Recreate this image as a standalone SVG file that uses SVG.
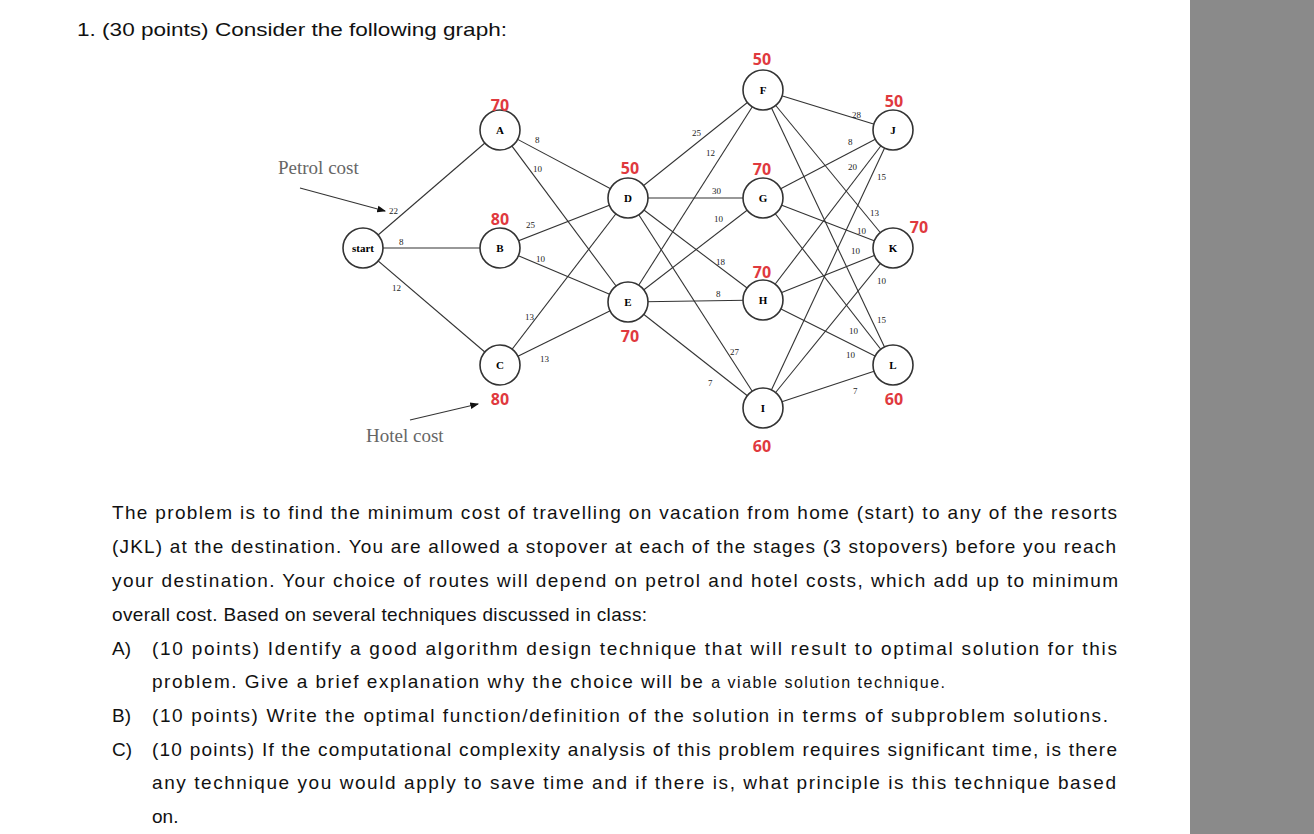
<svg xmlns="http://www.w3.org/2000/svg" width="1314" height="834" viewBox="0 0 1314 834">
<style>
.n circle{fill:#fff;stroke:#333;stroke-width:1.6}
.n text{font-family:"Liberation Serif",serif;font-weight:bold;font-size:11px;text-anchor:middle}
.n text.c{font-family:"Open Sans","Liberation Sans",sans-serif;font-weight:bold;font-size:16px;fill:#e0393e;text-anchor:middle}
.w{font-family:"Liberation Serif",serif;font-size:9px;fill:#222}
.t{font-family:"Liberation Sans",sans-serif;font-size:19px;fill:#111}
#edges line{stroke:#333;stroke-width:1.1}
.lbl{font-family:"Liberation Serif",serif;font-size:19px;fill:#666}
</style>
<defs><marker id="ar" markerWidth="8" markerHeight="8" refX="7" refY="4" orient="auto"><path d="M0,1 L8,4 L0,7z" fill="#111"/></marker></defs>
<rect width="1314" height="834" fill="#fff"/>
<rect x="1190" y="0" width="124" height="834" fill="#8a8a8a"/>
<text class="t" x="77" y="36" textLength="430" lengthAdjust="spacingAndGlyphs">1.  (30 points) Consider the following graph:</text>
<g id="edges">
<line x1="363" y1="248" x2="500" y2="130"/><line x1="363" y1="248" x2="500" y2="248"/><line x1="363" y1="248" x2="500" y2="365"/>
<line x1="500" y1="130" x2="628" y2="198"/><line x1="500" y1="130" x2="628" y2="302"/>
<line x1="500" y1="248" x2="628" y2="198"/><line x1="500" y1="248" x2="628" y2="302"/>
<line x1="500" y1="365" x2="628" y2="198"/><line x1="500" y1="365" x2="628" y2="302"/>
<line x1="628" y1="198" x2="763" y2="90"/><line x1="628" y1="198" x2="763" y2="198"/><line x1="628" y1="198" x2="763" y2="300"/><line x1="628" y1="198" x2="763" y2="408"/>
<line x1="628" y1="302" x2="763" y2="90"/><line x1="628" y1="302" x2="763" y2="198"/><line x1="628" y1="302" x2="763" y2="300"/><line x1="628" y1="302" x2="763" y2="408"/>
<line x1="763" y1="90" x2="893" y2="130"/><line x1="763" y1="90" x2="893" y2="248"/><line x1="763" y1="90" x2="893" y2="365"/>
<line x1="763" y1="198" x2="893" y2="130"/><line x1="763" y1="198" x2="893" y2="248"/><line x1="763" y1="198" x2="893" y2="365"/>
<line x1="763" y1="300" x2="893" y2="130"/><line x1="763" y1="300" x2="893" y2="248"/><line x1="763" y1="300" x2="893" y2="365"/>
<line x1="763" y1="408" x2="893" y2="130"/><line x1="763" y1="408" x2="893" y2="248"/><line x1="763" y1="408" x2="893" y2="365"/>
<line x1="300" y1="188" x2="385" y2="211" marker-end="url(#ar)"/>
<line x1="410" y1="420" x2="478" y2="404" marker-end="url(#ar)"/>
</g>
<g class="w">
<text x="389" y="214">22</text><text x="399" y="245">8</text><text x="392" y="291">12</text>
<text x="535" y="143">8</text><text x="533" y="172">10</text><text x="526" y="228">25</text><text x="536" y="262">10</text>
<text x="525" y="320">13</text><text x="540" y="362">13</text>
<text x="692" y="136">25</text><text x="706" y="156">12</text><text x="712" y="194">30</text><text x="714" y="222">10</text><text x="716" y="265">18</text><text x="716" y="297">8</text>
<text x="730" y="355">27</text><text x="708" y="386">7</text>
<text x="852" y="118">28</text><text x="848" y="145">8</text><text x="848" y="170">20</text><text x="877" y="180">15</text>
<text x="870" y="216">13</text><text x="857" y="234">10</text><text x="851" y="254">10</text><text x="877" y="284">10</text>
<text x="877" y="323">15</text><text x="849" y="334">10</text><text x="846" y="358">10</text><text x="853" y="394">7</text>
</g>
<g id="start" class="n"><circle cx="363" cy="248" r="20"/><text x="363" y="252">start</text></g>
<g id="A" class="n"><circle cx="500" cy="130" r="20"/><text x="500" y="134">A</text><text class="c" x="500" y="111">70</text></g>
<g id="B" class="n"><circle cx="500" cy="248" r="20"/><text x="500" y="252">B</text><text class="c" x="500" y="225">80</text></g>
<g id="C" class="n"><circle cx="500" cy="365" r="20"/><text x="500" y="369">C</text><text class="c" x="500" y="405">80</text></g>
<g id="D" class="n"><circle cx="628" cy="198" r="20"/><text x="628" y="202">D</text><text class="c" x="630" y="174">50</text></g>
<g id="E" class="n"><circle cx="628" cy="302" r="20"/><text x="628" y="306">E</text><text class="c" x="630" y="342">70</text></g>
<g id="F" class="n"><circle cx="763" cy="90" r="20"/><text x="763" y="94">F</text><text class="c" x="762" y="65">50</text></g>
<g id="G" class="n"><circle cx="763" cy="198" r="20"/><text x="763" y="202">G</text><text class="c" x="762" y="175">70</text></g>
<g id="H" class="n"><circle cx="763" cy="300" r="20"/><text x="763" y="304">H</text><text class="c" x="762" y="278">70</text></g>
<g id="I" class="n"><circle cx="763" cy="408" r="20"/><text x="763" y="412">I</text><text class="c" x="762" y="452">60</text></g>
<g id="J" class="n"><circle cx="893" cy="130" r="20"/><text x="893" y="134">J</text><text class="c" x="894" y="107">50</text></g>
<g id="K" class="n"><circle cx="893" cy="248" r="20"/><text x="893" y="252">K</text><text class="c" x="919" y="233">70</text></g>
<g id="L" class="n"><circle cx="893" cy="365" r="20"/><text x="893" y="369">L</text><text class="c" x="894" y="405">60</text></g>
<text class="lbl" x="278" y="174">Petrol cost</text>
<text class="lbl" x="366" y="442">Hotel cost</text>
<g class="t">
<text x="112" y="519" textLength="1005">The problem is to find the minimum cost of travelling on vacation from home (start) to any of the resorts</text>
<text x="112" y="553" textLength="1004">(JKL) at the destination. You are allowed a stopover at each of the stages (3 stopovers) before you reach</text>
<text x="112" y="587" textLength="1006">your destination. Your choice of routes will depend on petrol and hotel costs, which add up to minimum</text>
<text x="112" y="621" textLength="535">overall cost. Based on several techniques discussed in class:</text>
<text x="112" y="655">A)</text><text x="152" y="655" textLength="965">(10 points) Identify a good algorithm design technique that will result to optimal solution for this</text>
<text x="152" y="688" textLength="793">problem. Give a brief explanation why the choice will be <tspan font-size="16">a viable solution technique.</tspan></text>
<text x="112" y="722">B)</text><text x="152" y="722" textLength="956">(10 points) Write the optimal function/definition of the solution in terms of subproblem solutions.</text>
<text x="112" y="756">C)</text><text x="152" y="756" textLength="965">(10 points) If the computational complexity analysis of this problem requires significant time, is there</text>
<text x="152" y="789" textLength="964">any technique you would apply to save time and if there is, what principle is this technique based</text>
<text x="152" y="823">on.</text>
</g>
</svg>
